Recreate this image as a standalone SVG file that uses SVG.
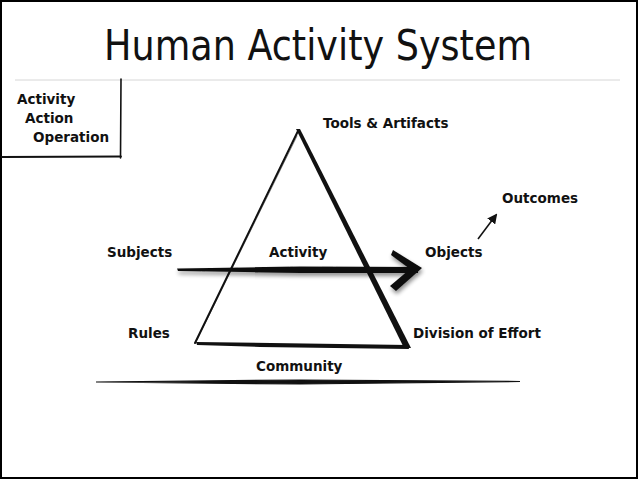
<svg xmlns="http://www.w3.org/2000/svg" width="638" height="479" viewBox="0 0 638 479">
<style>
.lbl{font-family:"DejaVu Sans","Liberation Sans",sans-serif;font-weight:bold;font-size:13.5px;fill:#111}
.title{font-family:"DejaVu Sans","Liberation Sans",sans-serif;font-size:42px;fill:#111}
.brush{fill:none;stroke:#111;stroke-linecap:round;stroke-linejoin:round}
</style>
<defs>
<filter id="shadow" x="-10%" y="-50%" width="120%" height="200%">
<feGaussianBlur in="SourceAlpha" stdDeviation="2"/>
<feOffset dx="1" dy="3" result="b"/>
<feComponentTransfer><feFuncA type="linear" slope="0.45"/></feComponentTransfer>
<feMerge><feMergeNode/><feMergeNode in="SourceGraphic"/></feMerge>
</filter>
<marker id="head" markerWidth="10" markerHeight="10" refX="8" refY="5" orient="auto" markerUnits="userSpaceOnUse">
<path d="M0,0 L10,5 L0,10 Z" fill="#111"/>
</marker>
</defs>
<rect x="0" y="0" width="638" height="479" fill="#fff"/>
<rect x="1" y="1" width="636" height="477" fill="none" stroke="#000" stroke-width="2"/>

<text class="title" x="318" y="60" text-anchor="middle" textLength="428" lengthAdjust="spacingAndGlyphs">Human Activity System</text>
<line x1="15" y1="80" x2="620" y2="80" stroke="#d6d6d6" stroke-width="1"/>

<g id="levels">
<path class="brush" d="M121,79 L120.5,158" stroke-width="1.6"/>
<path class="brush" d="M2,157 L121,156.5" stroke-width="1.8"/>
<text class="lbl" x="17" y="104">Activity</text>
<text class="lbl" x="25" y="123">Action</text>
<text class="lbl" x="33" y="142">Operation</text>
</g>

<g id="triangle">
<path class="brush" d="M195,343 L298,131" stroke-width="2"/>
<path class="brush" d="M197,340 L297,136" stroke-width="0.8" opacity="0.6"/>
<path d="M296,129 L300,129 L411,348 L404,348 Z" fill="#111"/>
<path d="M196,342 L408,345 L409,349 L260,347 L197,345 Z" fill="#111"/>
<path class="brush" d="M230,344.5 L405,346.5" stroke-width="1" opacity="0.5"/>
</g>

<g id="connectors">
<g filter="url(#shadow)">
<path d="M177,268.5 L300,266.5 L418,267 L418,273 L300,273 L178,271 Z" fill="#111"/>
<path d="M393,250 L422,268 L396,291 L390,286 L410,269 L391,255 Z" fill="#111"/>
</g>
<line x1="478" y1="239" x2="496" y2="215" stroke="#111" stroke-width="1.6" marker-end="url(#head)"/>
<path d="M96,382 L300,380 L520,381.5 L300,384 Z" fill="#111" stroke="#111" stroke-width="1.2"/>
</g>

<g id="tools"><text class="lbl" x="323" y="128">Tools &amp; Artifacts</text></g>
<g id="outcomes"><text class="lbl" x="502" y="203">Outcomes</text></g>
<g id="subjects"><text class="lbl" x="107" y="257">Subjects</text></g>
<g id="activity"><text class="lbl" x="269" y="257">Activity</text></g>
<g id="objects"><text class="lbl" x="425" y="257">Objects</text></g>
<g id="rules"><text class="lbl" x="128" y="338">Rules</text></g>
<g id="division"><text class="lbl" x="413" y="338">Division of Effort</text></g>
<g id="community"><text class="lbl" x="256" y="371">Community</text></g>
</svg>
